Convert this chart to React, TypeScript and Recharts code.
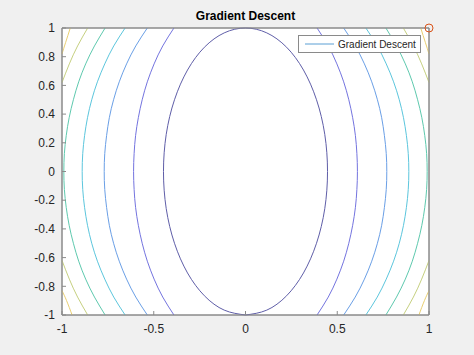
import { LineChart, Line, XAxis, YAxis, Legend, CartesianGrid, ReferenceLine } from 'recharts'

const TITLE = 'Gradient Descent'
const LEGEND_LABEL = 'Gradient Descent'

const X_TICKS = [-1, -0.5, 0, 0.5, 1]
const Y_TICKS = [-1, -0.8, -0.6, -0.4, -0.2, 0, 0.2, 0.4, 0.6, 0.8, 1]

// contour lines

// inner ellipse, traced all the way round as [x, y]
const level1 = [
  [0, -1], [-0.116, -0.966], [-0.224, -0.866], [-0.316, -0.707], [-0.387, -0.5], [-0.432, -0.259],
  [-0.447, 0], [-0.432, 0.259], [-0.387, 0.5], [-0.316, 0.707], [-0.224, 0.866], [-0.116, 0.966],
  [0, 1], [0.116, 0.966], [0.224, 0.866], [0.316, 0.707], [0.387, 0.5], [0.432, 0.259],
  [0.447, 0], [0.432, -0.259], [0.387, -0.5], [0.316, -0.707], [0.224, -0.866], [0.116, -0.966], [0, -1],
]

// the full-height contours: x position at each of these heights
const Y_ROWS = [-1, -0.875, -0.75, -0.625, -0.5, -0.375, -0.25, -0.125, 0, 0.125, 0.25, 0.375, 0.5, 0.625, 0.75, 0.875, 1]

const level2Left = [-0.39, -0.451, -0.498, -0.535, -0.563, -0.584, -0.599, -0.607, -0.61, -0.607, -0.599, -0.584, -0.563, -0.535, -0.498, -0.451, -0.39]
const level2Right = [0.39, 0.451, 0.498, 0.535, 0.563, 0.584, 0.599, 0.607, 0.61, 0.607, 0.599, 0.584, 0.563, 0.535, 0.498, 0.451, 0.39]

const level3Left = [-0.535, -0.598, -0.648, -0.688, -0.719, -0.742, -0.757, -0.767, -0.77, -0.767, -0.757, -0.742, -0.719, -0.688, -0.648, -0.598, -0.535]
const level3Right = [0.535, 0.598, 0.648, 0.688, 0.719, 0.742, 0.757, 0.767, 0.77, 0.767, 0.757, 0.742, 0.719, 0.688, 0.648, 0.598, 0.535]

const level4Left = [-0.656, -0.718, -0.767, -0.807, -0.838, -0.861, -0.877, -0.887, -0.89, -0.887, -0.877, -0.861, -0.838, -0.807, -0.767, -0.718, -0.656]
const level4Right = [0.656, 0.718, 0.767, 0.807, 0.838, 0.861, 0.877, 0.887, 0.89, 0.887, 0.877, 0.861, 0.838, 0.807, 0.767, 0.718, 0.656]

const level5Left = [-0.765, -0.823, -0.871, -0.909, -0.938, -0.961, -0.977, -0.987, -0.99, -0.987, -0.977, -0.961, -0.938, -0.909, -0.871, -0.823, -0.765]
const level5Right = [0.765, 0.823, 0.871, 0.909, 0.938, 0.961, 0.977, 0.987, 0.99, 0.987, 0.977, 0.961, 0.938, 0.909, 0.871, 0.823, 0.765]

// corner contours as [x, y]
const level6BottomLeft = [[-0.86, -1], [-0.915, -0.875], [-0.96, -0.75], [-1, -0.62]]
const level6TopLeft = [[-1, 0.62], [-0.96, 0.75], [-0.915, 0.875], [-0.86, 1]]
const level6BottomRight = [[0.86, -1], [0.915, -0.875], [0.96, -0.75], [1, -0.62]]
const level6TopRight = [[1, 0.62], [0.96, 0.75], [0.915, 0.875], [0.86, 1]]

const level7BottomLeft = [[-0.945, -1], [-0.975, -0.9], [-1, -0.83]]
const level7TopLeft = [[-1, 0.82], [-0.98, 0.9], [-0.955, 1]]
const level7BottomRight = [[0.945, -1], [0.975, -0.9], [1, -0.83]]
const level7TopRight = [[1, 0.82], [0.98, 0.9], [0.955, 1]]

// the descent point marked with a circle
const descentPath = [[1, 1]]

const LEVEL_COLORS = ['#5f5ea8', '#7474df', '#6a9fe6', '#5cc6dd', '#5ec9ae', '#c6d080', '#e9cf72']

const rows = (xs: number[]) => xs.map((x, i) => [x, Y_ROWS[i]])

const CONTOURS = [
  [level1],
  [rows(level2Left), rows(level2Right)],
  [rows(level3Left), rows(level3Right)],
  [rows(level4Left), rows(level4Right)],
  [rows(level5Left), rows(level5Right)],
  [level6BottomLeft, level6TopLeft, level6BottomRight, level6TopRight],
  [level7BottomLeft, level7TopLeft, level7BottomRight, level7TopRight],
]

const toPoints = (pts: number[][]) => pts.map(([x, y]) => ({ x, y }))

const FONT = '"Liberation Sans", Arial, sans-serif'
const AXIS_COLOR = '#8a8a8a'
const TEXT_COLOR = '#262626'

function LegendBox() {
  return (
    <div
      style={{
        boxSizing: 'border-box',
        width: 123,
        height: 18,
        border: `1px solid ${AXIS_COLOR}`,
        background: '#fff',
        display: 'flex',
        alignItems: 'center',
        fontFamily: FONT,
        fontSize: 10,
        color: TEXT_COLOR,
      }}
    >
      <svg width={39} height={16} style={{ flex: 'none' }}>
        <line x1={6} x2={35} y1={8} y2={8} stroke="#5a9fd4" strokeWidth={1} />
      </svg>
      <span style={{ whiteSpace: 'nowrap' }}>{LEGEND_LABEL}</span>
    </div>
  )
}

export default function App() {
  const tickStyle = { fontSize: 12, fill: TEXT_COLOR, fontFamily: FONT }
  const lineStyle = { stroke: AXIS_COLOR, strokeWidth: 1 }
  return (
    <div style={{ position: 'absolute', left: 0, top: 0, width: 474, height: 355, background: '#f0f0f0' }}>
      <div
        style={{
          position: 'absolute',
          left: 62,
          width: 367,
          top: 9,
          lineHeight: '14px',
          textAlign: 'center',
          fontFamily: FONT,
          fontWeight: 'bold',
          fontSize: 12,
          color: '#000',
        }}
      >
        {TITLE}
      </div>
      <LineChart width={474} height={355} margin={{ top: 27, right: 44, bottom: 10, left: 22 }}>
        <CartesianGrid fill="#fff" horizontal={false} vertical={false} />
        <XAxis
          type="number"
          dataKey="x"
          domain={[-1, 1]}
          ticks={X_TICKS}
          height={30}
          tickSize={-4}
          tickMargin={13}
          tick={tickStyle}
          axisLine={lineStyle}
          tickLine={lineStyle}
          interval={0}
        />
        <XAxis
          xAxisId="top"
          orientation="top"
          type="number"
          dataKey="x"
          domain={[-1, 1]}
          ticks={X_TICKS}
          height={1}
          tickSize={-4}
          tickFormatter={() => ''}
          axisLine={lineStyle}
          tickLine={lineStyle}
          interval={0}
        />
        <YAxis
          type="number"
          dataKey="y"
          domain={[-1, 1]}
          ticks={Y_TICKS}
          width={40}
          tickSize={-4}
          tickMargin={11}
          tick={tickStyle}
          axisLine={lineStyle}
          tickLine={lineStyle}
          interval={0}
        />
        <YAxis
          yAxisId="right"
          orientation="right"
          type="number"
          dataKey="y"
          domain={[-1, 1]}
          ticks={Y_TICKS}
          width={1}
          tickSize={-4}
          tickFormatter={() => ''}
          axisLine={lineStyle}
          tickLine={lineStyle}
          interval={0}
        />
        {/* plot box */}
        <ReferenceLine x={-1} stroke={AXIS_COLOR} />
        <ReferenceLine x={1} stroke={AXIS_COLOR} />
        <ReferenceLine y={-1} stroke={AXIS_COLOR} />
        <ReferenceLine y={1} stroke={AXIS_COLOR} />
        {CONTOURS.flatMap((pieces, i) =>
          pieces.map((p, j) => (
            <Line
              key={`c${i}-${j}`}
              data={toPoints(p)}
              dataKey="y"
              type="natural"
              stroke={LEVEL_COLORS[i]}
              strokeWidth={1}
              dot={false}
              activeDot={false}
              legendType="none"
              isAnimationActive={false}
            />
          ))
        )}
        <Line
          data={toPoints(descentPath)}
          dataKey="y"
          stroke="none"
          dot={{ r: 4, fill: 'none', stroke: '#d95319', strokeWidth: 1 }}
          activeDot={false}
          legendType="none"
          isAnimationActive={false}
        />
        <Legend
          content={<LegendBox />}
          verticalAlign="middle"
          align="center"
          wrapperStyle={{ left: 298, top: 35, width: 123, height: 18 }}
        />
      </LineChart>
    </div>
  )
}
